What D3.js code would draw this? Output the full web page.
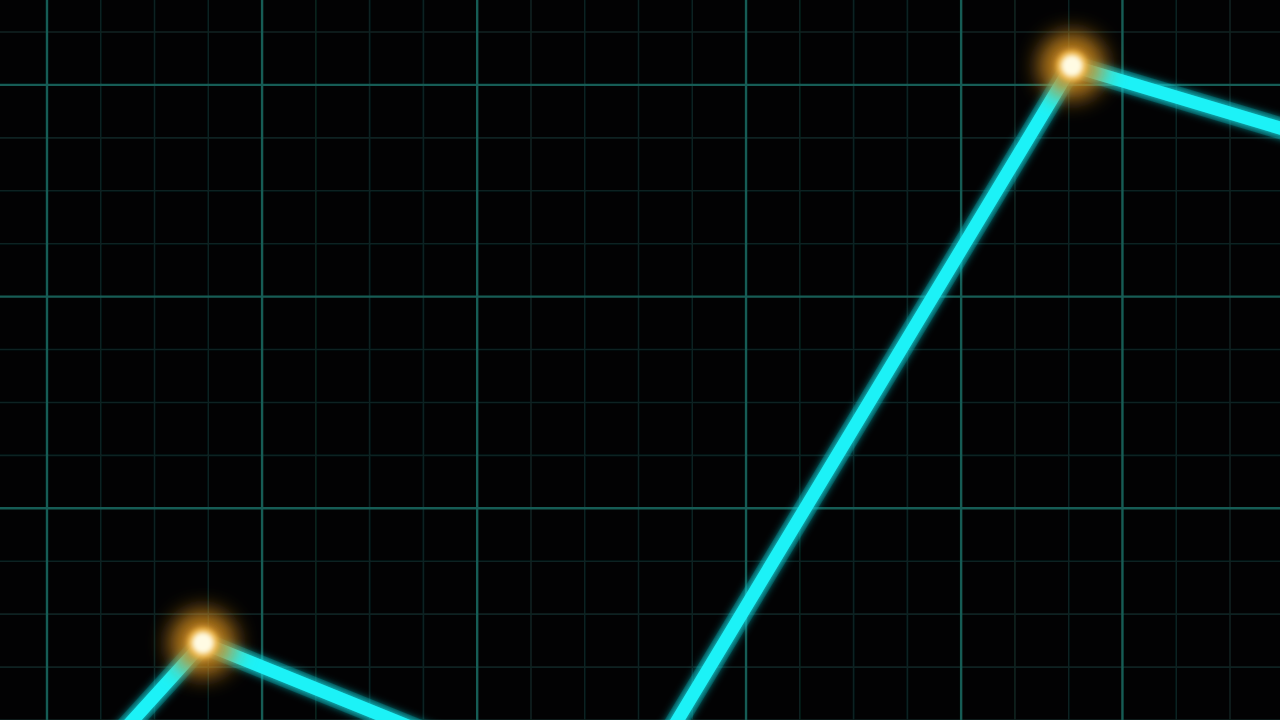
<!DOCTYPE html>
<html>
<head>
<meta charset="utf-8">
<script src="https://cdn.jsdelivr.net/npm/d3@7"></script>
<style>
  html, body { margin: 0; padding: 0; background: #020203; overflow: hidden; }
  svg { display: block; }
</style>
</head>
<body>
<svg id="chart" width="1280" height="720"></svg>
<script>
// ---- data (grid units) ----
const xMinorTicks = [0,1,2,3,4,5,6,7,8,9,10,11,12,13,14,15,16,17,18,19,20,21,22,23];
const xMajorTicks = [0,4,8,13,17,20];
const yMinorTicks = [0,1,2,3,4,5,6,7,8,9,10,11,12,13];
const yMajorTicks = [4,8,12];
const seriesX = [-0.5, 2.9, 10.69, 19.06, 24];
const seriesY = [-2.35, 1.455, -1.75, 12.36, 10.86];
const peakIndex = [1, 3];

const W = 1280, H = 720;
const svg = d3.select("#chart");

// scales: one grid unit ≈ 53.8 px horizontally, 52.9 px vertically
const x = d3.scaleLinear().domain([0, 22]).range([47, 1230]);
const y = d3.scaleLinear().domain([0, 13]).range([720, 32]);

svg.append("rect").attr("width", W).attr("height", H).attr("fill", "#020203");

const defs = svg.append("defs");
const gf = defs.append("filter").attr("id", "gridBlur").attr("x", "-10%").attr("y", "-10%").attr("width", "120%").attr("height", "120%");
gf.append("feGaussianBlur").attr("stdDeviation", 0.7);

const lf = defs.append("filter").attr("id", "lineGlow")
  .attr("filterUnits", "userSpaceOnUse").attr("x", -100).attr("y", -100).attr("width", 1500).attr("height", 1000);
lf.append("feGaussianBlur").attr("in", "SourceGraphic").attr("stdDeviation", 4).attr("result", "b");
const fm = lf.append("feMerge");
fm.append("feMergeNode").attr("in", "b");
fm.append("feMergeNode").attr("in", "SourceGraphic");

const hf = defs.append("filter").attr("id", "haloBlur")
  .attr("filterUnits", "userSpaceOnUse").attr("x", 0).attr("y", -100).attr("width", 1280).attr("height", 920);
hf.append("feGaussianBlur").attr("stdDeviation", 11);

const cf = defs.append("filter").attr("id", "coreBlur")
  .attr("filterUnits", "userSpaceOnUse").attr("x", 0).attr("y", -100).attr("width", 1280).attr("height", 920);
cf.append("feGaussianBlur").attr("stdDeviation", 2.5);

// ---- grid ----
const grid = svg.append("g").attr("filter", "url(#gridBlur)");
grid.selectAll("line.vmin").data(xMinorTicks.filter(d => !xMajorTicks.includes(d))).join("line")
  .attr("class", "vmin")
  .attr("x1", d => x(d)).attr("x2", d => x(d)).attr("y1", 0).attr("y2", H)
  .attr("stroke", "#0a2321").attr("stroke-width", 1.6);
grid.selectAll("line.hmin").data(yMinorTicks.filter(d => !yMajorTicks.includes(d))).join("line")
  .attr("class", "hmin")
  .attr("y1", d => y(d)).attr("y2", d => y(d)).attr("x1", 0).attr("x2", W)
  .attr("stroke", "#0a2321").attr("stroke-width", 1.6);
grid.selectAll("line.vmaj").data(xMajorTicks).join("line")
  .attr("class", "vmaj")
  .attr("x1", d => x(d)).attr("x2", d => x(d)).attr("y1", 0).attr("y2", H)
  .attr("stroke", "#175c55").attr("stroke-width", 2.4);
grid.selectAll("line.hmaj").data(yMajorTicks).join("line")
  .attr("class", "hmaj")
  .attr("y1", d => y(d)).attr("y2", d => y(d)).attr("x1", 0).attr("x2", W)
  .attr("stroke", "#175c55").attr("stroke-width", 2.4);

// ---- line ----
const pts = seriesX.map((d, i) => [d, seriesY[i]]);
const lineGen = d3.line().x(d => x(d[0])).y(d => y(d[1]));
svg.append("path").datum(pts)
  .attr("d", lineGen)
  .attr("fill", "none")
  .attr("stroke", "#0a9aa3")
  .attr("stroke-opacity", 0.3)
  .attr("stroke-width", 22)
  .attr("stroke-linejoin", "round")
  .attr("filter", "url(#lineGlow)");
svg.append("path").datum(pts)
  .attr("d", lineGen)
  .attr("fill", "none")
  .attr("stroke", "#1ff2f7")
  .attr("stroke-width", 13)
  .attr("stroke-linejoin", "round")
  .attr("filter", "url(#lineGlow)");

// ---- glowing peaks ----
const peaks = peakIndex.map(i => pts[i]);
svg.selectAll("circle.halo").data(peaks).join("circle")
  .attr("class", "halo")
  .attr("cx", d => x(d[0])).attr("cy", d => y(d[1]))
  .attr("r", 33).attr("fill", "#d08c1e").attr("fill-opacity", 0.9)
  .attr("filter", "url(#haloBlur)");
svg.selectAll("circle.mid").data(peaks).join("circle")
  .attr("class", "mid")
  .attr("cx", d => x(d[0])).attr("cy", d => y(d[1]))
  .attr("r", 16).attr("fill", "#f3b94a").attr("fill-opacity", 0.85)
  .attr("filter", "url(#coreBlur)");
svg.selectAll("circle.core").data(peaks).join("circle")
  .attr("class", "core")
  .attr("cx", d => x(d[0])).attr("cy", d => y(d[1]))
  .attr("r", 11).attr("fill", "#fffbe3")
  .attr("filter", "url(#coreBlur)");
</script>
</body>
</html>
